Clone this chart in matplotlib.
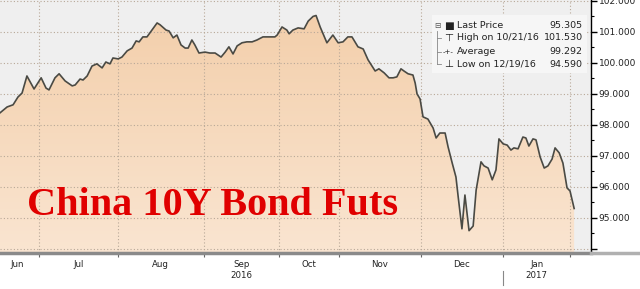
import numpy as np
import matplotlib.pyplot as plt
import matplotlib.transforms as mtransforms
from matplotlib.colors import LinearSegmentedColormap
from matplotlib.patches import Rectangle

# x = trading day index (mid Jun 2016 .. late Jan 2017), y = price
days = [0.0, 1.9, 3.5, 4.8, 5.9, 7.2, 9.1, 11.0, 12.3, 13.1, 14.7, 15.8, 17.4, 19.3,
        20.1, 21.4, 22.2, 23.3, 24.6, 25.9, 27.3, 28.3, 29.4, 30.2, 31.6, 32.6, 34.0,
        35.3, 36.4, 37.2, 38.2, 39.3, 42.0, 42.8, 44.4, 45.2, 46.3, 47.3, 48.4, 49.5,
        50.3, 51.3, 52.1, 53.2, 54.8, 56.1, 57.5, 59.1, 60.2, 61.2, 62.3, 63.4, 64.7,
        66.0, 67.4, 68.7, 70.3, 71.7, 73.5, 74.1, 75.4, 76.7, 77.3, 78.3, 79.7, 81.3,
        82.4, 83.7, 84.5, 85.6, 87.4, 89.0, 90.4, 91.7, 93.0, 94.1, 95.7, 97.1, 98.4,
        100.3, 101.3, 102.7, 104.0, 105.1, 106.1, 107.2, 108.0, 109.1, 110.4, 111.0,
        111.5, 112.3, 113.1, 114.4, 115.8, 116.6, 117.6, 119.0, 119.8, 120.9, 121.9,
        122.5, 123.5, 124.3, 125.4, 126.5, 127.3, 128.6, 129.4, 130.5, 131.6, 132.6,
        133.4, 134.5, 135.6, 136.6, 137.4, 138.5, 139.8, 140.6, 141.4, 142.5, 143.3,
        144.4, 145.5, 146.5, 147.6, 148.4, 149.5, 150.5, 151.6, 152.4, 153.5]
price = [98.39, 98.58, 98.65, 98.90, 99.03, 99.58, 99.16, 99.52, 99.19, 99.13, 99.52,
         99.65, 99.42, 99.26, 99.29, 99.48, 99.45, 99.58, 99.90, 99.97, 99.84, 100.03,
         99.97, 100.16, 100.13, 100.19, 100.39, 100.48, 100.71, 100.68, 100.84, 100.84,
         101.29, 101.23, 101.06, 101.03, 100.81, 100.90, 100.58, 100.48, 100.48, 100.74,
         100.58, 100.32, 100.35, 100.32, 100.32, 100.19, 100.35, 100.52, 100.29, 100.55,
         100.65, 100.68, 100.68, 100.74, 100.84, 100.84, 100.84, 100.90, 101.16, 101.06,
         100.94, 101.06, 101.13, 101.10, 101.35, 101.50, 101.53, 101.16, 100.65, 100.90,
         100.65, 100.68, 100.84, 100.84, 100.52, 100.45, 100.10, 99.74, 99.81, 99.68,
         99.52, 99.52, 99.55, 99.81, 99.74, 99.65, 99.61, 99.35, 99.00, 98.84, 98.26,
         98.19, 97.90, 97.58, 97.74, 97.74, 97.29, 96.77, 96.32, 95.68, 94.65, 95.74,
         94.59, 94.74, 95.90, 96.81, 96.68, 96.61, 96.23, 96.55, 97.55, 97.39, 97.35,
         97.19, 97.26, 97.23, 97.61, 97.58, 97.32, 97.55, 97.52, 96.97, 96.61, 96.68,
         96.90, 97.26, 97.10, 96.77, 95.97, 95.87, 95.305]

month_edges = [10.5, 31.5, 54.5, 74.5, 90.5, 112.5, 134.5, 152.5]
month_pos = [4.5, 21, 43, 64.5, 82.5, 101.5, 123.5, 143.5]
month_names = ['Jun', 'Jul', 'Aug', 'Sep\n2016', 'Oct', 'Nov', 'Dec', 'Jan\n2017']

price_ticks = [94, 95, 96, 97, 98, 99, 100, 101, 102]

leg_syms = ['■', '⊤', '-+-', '⊥']
leg_names = ['Last Price', 'High on 10/21/16', 'Average', 'Low on 12/19/16']
leg_vals = ['95.305', '101.530', '99.292', '94.590']

ymin, ymax = 93.87, 102.03
xmax = 158.0

fig = plt.figure(figsize=(6.4, 2.89), dpi=100)
ax = fig.add_axes([0.0, 0.1246, 0.9234, 0.8754])
ax.set_facecolor('#efefef')

# gradient fill under the curve
poly = ax.fill_between(days, price, ymin, color='none', lw=0)
grad = np.linspace(0, 1, 256).reshape(-1, 1)
cmap = LinearSegmentedColormap.from_list('peach', ['#fae5d1', '#f3cfab'])
im = ax.imshow(grad, cmap=cmap, origin='lower', aspect='auto',
               extent=[0, days[-1], ymin, 101.6], zorder=1)
im.set_clip_path(poly.get_paths()[0], transform=ax.transData)

ax.plot(days, price, color='#4a4a44', lw=1.2, zorder=3)

ax.set_xlim(0, xmax)
ax.set_ylim(ymin, ymax)

# grid
for v in price_ticks:
    ax.axhline(v, color='#b8a898', lw=0.8, ls=(0, (1, 2)), zorder=2)
for e in month_edges:
    ax.axvline(e, color='#b8a898', lw=0.8, ls=(0, (1, 2)), zorder=2)

# axes styling
for s in ['top', 'left']:
    ax.spines[s].set_visible(False)
ax.spines['right'].set_color('black')
ax.spines['right'].set_linewidth(1.0)
ax.spines['bottom'].set_color('#8a8a8a')
ax.spines['bottom'].set_linewidth(2.5)

ax.yaxis.tick_right()
ax.set_yticks(price_ticks)
ax.set_yticklabels([''] + ['%.3f' % v for v in price_ticks[1:]])
ax.set_yticks(np.arange(94.5, 102, 1.0), minor=True)
ax.tick_params(axis='y', which='major', length=4, width=1, pad=1.5,
               labelsize=6.5, labelcolor='#222222')
ax.tick_params(axis='y', which='minor', length=2.5, width=0.8)

ax.set_xticks(month_edges)
ax.set_xticklabels([])
ax.set_xticks(month_pos, minor=True)
ax.set_xticklabels(month_names, minor=True)
ax.tick_params(axis='x', which='major', length=3, color='#666666', direction='out')
ax.tick_params(axis='x', which='minor', length=0, pad=5, labelsize=6.2,
               labelcolor='#222222')
for lab in ax.get_xticklabels(minor=True):
    lab.set_linespacing(1.35)

# year separator
bt = mtransforms.blended_transform_factory(ax.transData, ax.transAxes)
ax.plot([134.5, 134.5], [-0.07, -0.125], transform=bt, color='#888888',
        lw=0.8, clip_on=False)
fig.add_artist(plt.Line2D([0.9234, 1.0], [0.1246, 0.1246], color='#b0b0b0', lw=2.5))

# legend box
ax.add_patch(Rectangle((0.731, 0.712), 0.262, 0.229, transform=ax.transAxes,
                       facecolor='#f6f6f6', edgecolor='none', zorder=4))
rows = [0.899, 0.850, 0.795, 0.747]
ax.text(0.740, rows[0], '⊟', transform=ax.transAxes, fontsize=5.5, ha='center',
        va='center', color='#555555', zorder=5)
ax.plot([0.740, 0.740], [rows[0] - 0.02, rows[-1]], transform=ax.transAxes,
        color='#888888', lw=0.6, zorder=5)
for r in rows[1:]:
    ax.plot([0.740, 0.747], [r, r], transform=ax.transAxes, color='#888888',
            lw=0.6, zorder=5)
for r, sym, name, val in zip(rows, leg_syms, leg_names, leg_vals):
    ax.text(0.759, r, sym, transform=ax.transAxes, fontsize=7.5 if sym != '-+-' else 5,
            ha='center', va='center', color='#222222', zorder=5)
    ax.text(0.773, r, name, transform=ax.transAxes, fontsize=6.8, ha='left',
            va='center', color='#222222', zorder=5)
    ax.text(0.986, r, val, transform=ax.transAxes, fontsize=6.8, ha='right',
            va='center', color='#222222', zorder=5)

# last price tag
ax.text(1.02, price[-1], leg_vals[0], transform=bt, fontsize=6.5, color='white',
        ha='left', va='center', clip_on=False, zorder=6,
        bbox=dict(boxstyle='larrow,pad=0.2', fc='black', ec='black'))

# title
ax.text(0.046, 0.150, 'China 10Y Bond Futs', transform=ax.transAxes,
        fontsize=29, fontweight='bold', family='Liberation Serif',
        color='#e00000', ha='left', va='baseline', zorder=5)

fig.savefig('out.png', dpi=100)
